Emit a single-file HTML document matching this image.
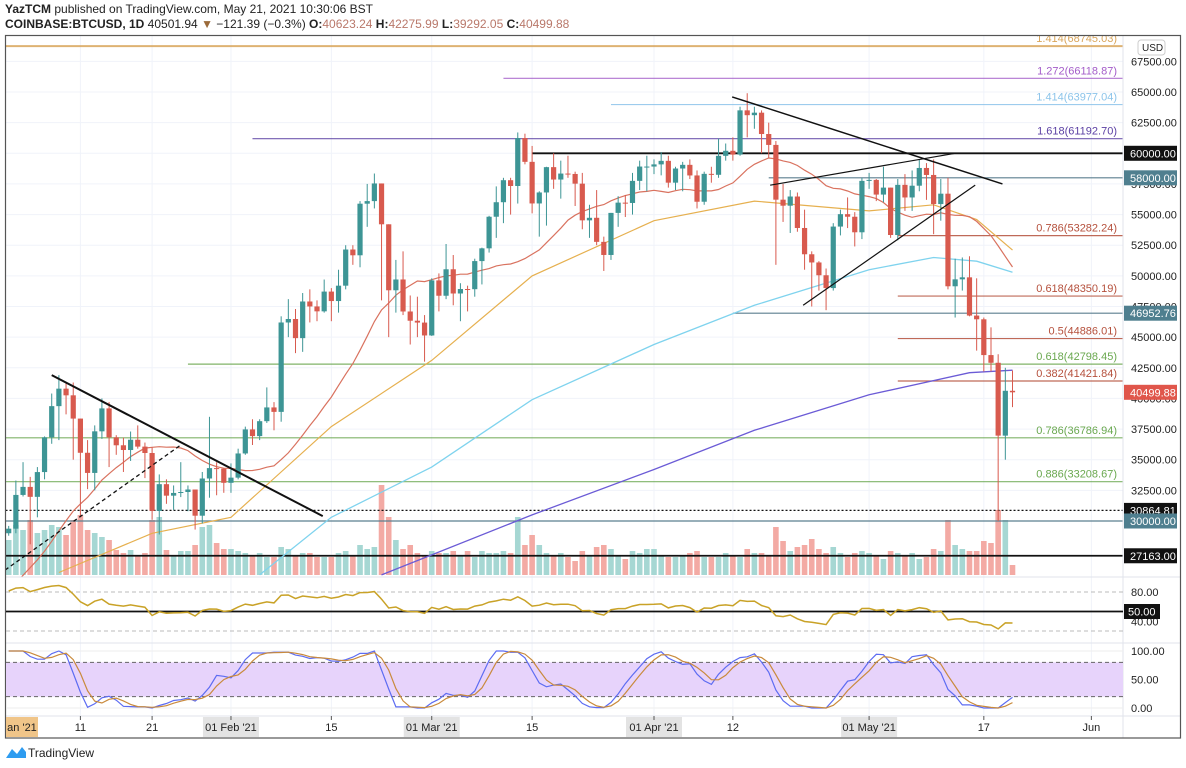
<!DOCTYPE html>
<html><head><meta charset="utf-8"><title>BTCUSD chart</title>
<style>
html,body{margin:0;padding:0;background:#fff;width:1186px;height:768px;overflow:hidden;font-family:"Liberation Sans",sans-serif;}
#hdr1{position:absolute;left:5px;top:2px;font-size:12px;color:#222;}
#hdr2{position:absolute;left:5px;top:17px;font-size:12px;color:#222;}
#hdr2 .o{color:#b9786a}
svg{position:absolute;left:0;top:0}
</style></head><body>
<div id="hdr1"><b>YazTCM</b> published on TradingView.com, May 21, 2021 10:30:06 BST</div>
<div id="hdr2"><b>COINBASE:BTCUSD, 1D</b> 40501.94 <span style="color:#9b6a3a">▼</span> −121.39 (−0.3%) <b>O:</b><span class="o">40623.24</span> <b>H:</b><span class="o">42275.99</span> <b>L:</b><span class="o">39292.05</span> <b>C:</b><span class="o">40499.88</span></div>
<svg id="chart" width="1186" height="768" xmlns="http://www.w3.org/2000/svg"></svg>
<script>
// ---- data ----
const preCloses=[18680,18400,18370,19160,18720,17150,17140,17720,18180,19630,18800,19200,19450,18650,19150,19360,19170,18320,18540,18250,18040,18800,19170,19270,19440,21310,22800,23140,23850,23480,22740,23820,23240,23730,24660,26440,26250,27040,27360,28840,29000];
const closes=[29374,32127,32782,31971,33992,36824,39371,40797,40254,38356,35566,33922,37316,39187,36825,36178,35792,36630,36069,35547,30825,33005,32067,32289,32366,32569,30432,33467,34316,34269,33115,
33537,35510,37472,36926,38144,39266,38903,46196,46481,44919,47909,47504,47105,48717,47945,49199,52149,51679,55888,56099,57539,54207,48824,49705,47093,46339,46188,45137,
49631,48378,50538,48561,48927,48912,51206,52246,54824,56008,57805,57332,61243,59302,55907,56804,58870,57858,58346,58313,57523,54529,54738,52774,51704,55137,55974,55947,57750,58918,58918,
59095,59384,57603,58758,59057,58192,56048,58323,58245,59793,60204,59893,63503,63109,63314,61572,60683,56216,55724,56473,53906,51762,51093,50050,49004,54021,55033,54824,53555,57750,
57828,56631,57200,53333,57424,56396,57356,58803,58232,55859,56704,49150,49716,49880,46760,46456,43537,42909,36964,40623,40499];
const highs=[29600,33300,34800,33600,34400,36900,40400,41900,41300,41300,38200,36600,37800,40000,39700,37000,36800,37300,37800,36400,36000,33800,33400,32900,34800,32900,32500,34000,38500,34800,34300,
34700,35900,37700,38300,38300,40900,39700,46700,48100,47300,48600,48900,48000,49700,49000,50500,52500,52500,56100,57500,58350,57500,54200,51300,52000,48400,48300,46800,
49800,50200,52600,51700,49400,49200,51400,52300,54900,57300,58000,58000,61700,61600,60600,56900,58900,60000,59400,59800,58500,58400,55800,57000,53200,55000,56500,56600,58400,59400,59800,
59500,60100,59800,58900,59300,59500,58600,58500,58900,61200,60800,61300,63800,64900,63800,63500,62500,61000,57500,57000,56800,55400,52000,51200,50600,54300,55400,56400,55200,58000,
58400,57900,58900,57200,57900,58300,58600,59500,59200,59500,57900,58000,51400,51500,51600,49800,46600,45800,43600,42500,42276];
const lows=[28800,29000,32000,28100,30300,33400,36300,36600,38700,35000,30300,32600,32500,36700,34400,35400,34000,34900,35900,33500,30100,28900,31400,30900,31950,30800,29300,29800,31900,32100,32300,
32300,33400,35400,36200,36600,38000,37400,38100,45000,43700,43800,46200,46300,47000,46300,47000,48900,50900,50700,54000,55500,48000,45000,47000,46800,44400,45000,43000,
45100,47100,48100,47600,46300,47100,48300,49300,51900,53100,54300,55000,55900,59100,55100,53200,54100,57100,56300,58000,55700,53800,53100,52500,50400,51300,54000,54800,55000,57000,56900,
58300,58200,57200,57000,56900,57900,55500,55800,57600,58000,59400,59400,59800,61300,62000,60000,59600,50900,54400,53500,53600,50500,47500,48800,47200,48800,53300,53900,52400,53000,
57100,56100,56000,53100,52900,55300,55300,56900,56200,53400,54500,48900,46600,48800,46700,43900,42200,42200,30000,35000,39292];
const volumes=[35,50,45,55,42,45,50,48,40,55,60,45,42,38,35,25,22,25,20,22,55,58,25,20,24,24,30,48,50,32,26,
26,24,22,20,22,18,18,28,26,20,22,22,18,18,18,22,24,20,30,26,28,90,58,35,26,30,22,20,
24,22,22,24,20,24,18,24,22,22,24,22,58,30,40,30,22,20,22,18,14,24,20,28,30,26,20,16,24,22,26,
26,20,18,18,20,22,24,18,18,18,22,20,18,26,22,22,20,48,34,24,28,30,36,26,22,28,22,18,22,24,
22,20,16,24,22,20,22,16,18,26,24,55,30,26,24,24,34,32,65,55,10];
const ma50Days=[7,20,31,45,59,73,90,104,120,129,135,140];
const ma50Vals=[25800,29000,30300,37700,43100,50000,54500,56100,55300,55800,54600,52100];
const ma100Days=[35,45,59,73,90,104,120,129,135,140];
const ma100Vals=[25600,30300,34400,39900,44400,47600,50500,51500,51200,50300];
const ma200Days=[52,73,90,104,120,134,140];
const ma200Vals=[25600,30500,34200,37400,40300,42100,42300];
const priceTicks=[67500,65000,62500,60000,57500,55000,52500,50000,47500,45000,42500,40000,37500,35000,32500,30000];
const dateTickDays=[10,20,31,45,59,73,90,101,120,136,151];
const dateTickLabels=["11","21","01 Feb '21","15","01 Mar '21","15","01 Apr '21","12","01 May '21","17","Jun"];
const fibPrices=[68745.03,66118.87,63977.04,61192.70,53282.24,48350.19,44886.01,42798.45,41421.84,36786.94,33208.67];
const fibLabels=["1.414(68745.03)","1.272(66118.87)","1.414(63977.04)","1.618(61192.70)","0.786(53282.24)","0.618(48350.19)","0.5(44886.01)","0.618(42798.45)","0.382(41421.84)","0.786(36786.94)","0.886(33208.67)"];
const fibStartDays=[-1,69,84,34,124,124,124,25,124,-1,-1];
const fibColors=["#d9a55a","#a35cc9","#8cc4ea","#5a3fa3","#b5503c","#b5503c","#b5503c","#6aa84f","#b5503c","#6aa84f","#6aa84f"];
const levelPrices=[60000,58000,46952.76,30864.81,30000,27163];
const levelLabels=["60000.00","58000.00","46952.76","30864.81","30000.00","27163.00"];
const levelStartDays=[73,106,101,-1,-1,-1];
const levelColors=["#111","#5b7f8f","#5b7f8f","#111","#5b7f8f","#111"];

// ---- axes ----
const X0=8.7, DX=7.17, PR=1123, TOP=36, MAINB=577;
const xd=d=>X0+d*DX;
const yp=p=>521-(p-30000)*0.012257;
const yr=v=>611.5-(v-50)*0.65;
const ys=v=>708-v*0.57;
const NS="http://www.w3.org/2000/svg";
const svg=document.getElementById('chart');
function el(tag,attrs,parent){const e=document.createElementNS(NS,tag);for(const k in attrs)e.setAttribute(k,attrs[k]);(parent||svg).appendChild(e);return e;}
function txt(s,attrs,parent){const e=el('text',attrs,parent);e.textContent=s;return e;}

// clip
const defs=el('defs',{});
const cp=el('clipPath',{id:'mainclip'},defs);el('rect',{x:6,y:TOP,width:PR-6,height:MAINB-TOP},cp);
const cp2=el('clipPath',{id:'lowclip'},defs);el('rect',{x:6,y:MAINB,width:PR-6,height:716-MAINB},cp2);

// grid
const grid=el('g',{stroke:'#f0f3fa','stroke-width':1});


dateTickDays.forEach(d=>el('line',{x1:xd(d),x2:xd(d),y1:TOP,y2:716},grid));
priceTicks.forEach(p=>el('line',{x1:6,x2:PR,y1:yp(p),y2:yp(p)},grid));

// volume
const vg=el('g',{'clip-path':'url(#mainclip)'});


closes.forEach((c,i)=>{const o=i?closes[i-1]:preCloses[preCloses.length-1];
 const r=el('rect',{x:xd(i)-2.8,y:MAINB-2-volumes[i],width:5.6,height:volumes[i],fill:c>=o?'#a6d7d3':'#f3aaa4'},vg);
 
 });

// horizontal fib lines
const hl=el('g',{'clip-path':'url(#mainclip)'});


fibPrices.forEach((p,i)=>{
 el('line',{x1:xd(fibStartDays[i]),x2:PR,y1:yp(p),y2:yp(p),stroke:fibColors[i],'stroke-width':i===0?2:1.2,opacity:0.85},hl);
 const t=txt(fibLabels[i],{x:1117,y:yp(p)-4,'text-anchor':'end','font-size':11,fill:fibColors[i]},hl);
 
 
});
levelPrices.forEach((p,i)=>{
 el('line',{x1:xd(levelStartDays[i]),x2:PR,y1:yp(p),y2:yp(p),stroke:levelColors[i],'stroke-width':(i===0||i===5)?1.8:1.2,'stroke-dasharray':i===3?'2,2':'none'},hl);
});

// moving averages
function polyPts(days,vals,f){return days.map((d,i)=>xd(d).toFixed(1)+','+f(vals[i]).toFixed(1)).join(' ');}
const mag=el('g',{'clip-path':'url(#mainclip)',fill:'none'});


el('polyline',{points:polyPts(ma200Days,ma200Vals,yp),stroke:'#6b5bd6','stroke-width':1.3},mag);
el('polyline',{points:polyPts(ma100Days,ma100Vals,yp),stroke:'#7fd3ee','stroke-width':1.3},mag);
el('polyline',{points:polyPts(ma50Days,ma50Vals,yp),stroke:'#e6b04f','stroke-width':1.2},mag);
const all=preCloses.concat(closes), P=preCloses.length;
const ma20d=[],ma20v=[];
for(let i=0;i<closes.length;i++){let s=0;for(let k=0;k<20;k++)s+=all[P+i-k];ma20d.push(i);ma20v.push(s/20);}
el('polyline',{points:polyPts(ma20d,ma20v,yp),stroke:'#d9725f','stroke-width':1.2},mag);

// candles
const cg=el('g',{'clip-path':'url(#mainclip)'});


closes.forEach((c,i)=>{const o=i?closes[i-1]:preCloses[P-1];const up=c>=o;const col=up?'#3d9595':'#d85a4e';
 const g=el('g',{},cg);
 
 
 el('line',{x1:xd(i),x2:xd(i),y1:yp(Math.max(highs[i],o,c)),y2:yp(Math.min(lows[i],o,c)),stroke:col,'stroke-width':1},g);
 const top=yp(Math.max(o,c)),h=Math.max(1,yp(Math.min(o,c))-top);
 el('rect',{x:xd(i)-2.6,y:top,width:5.2,height:h,fill:col},g);
});

// trend lines (drawings)
const tl=el('g',{'clip-path':'url(#mainclip)',stroke:'#111',fill:'none'});


[[6,41900,43.8,30400,2,''],[-0.5,26000,24,36200,1.3,'4,3'],[100.9,64600,138.6,57500,1.5,''],[106.2,57400,132,60000,1.2,''],[110.8,47600,134.8,57400,1.2,'']].forEach(a=>{
 el('line',{x1:xd(a[0]),y1:yp(a[1]),x2:xd(a[2]),y2:yp(a[3]),'stroke-width':a[4],'stroke-dasharray':a[5]||'none'},tl);});

// pane separators & frame
el('line',{x1:6,x2:1180,y1:MAINB,y2:MAINB,stroke:'#e0e3eb'});
el('line',{x1:6,x2:1180,y1:643,y2:643,stroke:'#e0e3eb'});
el('line',{x1:6,x2:1180,y1:716,y2:716,stroke:'#e0e3eb'});
el('line',{x1:PR,x2:PR,y1:TOP,y2:738,stroke:'#e0e3eb'});
const fr=el('rect',{x:5.5,y:TOP-0.5,width:1175,height:738-TOP+0.5,fill:'none',stroke:'#555','stroke-width':1.2});



// RSI
const rg=el('g',{'clip-path':'url(#lowclip)'});


[80,20].forEach(v=>el('line',{x1:6,x2:PR,y1:yr(v),y2:yr(v),stroke:'#bbb','stroke-dasharray':'4,3'},rg));
el('line',{x1:6,x2:PR,y1:yr(50),y2:yr(50),stroke:'#111','stroke-width':1.8},rg);
let ag=0,al=0;const rsi=[];
for(let i=1;i<all.length;i++){const ch=all[i]-all[i-1],g=Math.max(ch,0),l=Math.max(-ch,0);
 if(i<=14){ag+=g/14;al+=l/14;}else{ag=(ag*13+g)/14;al=(al*13+l)/14;}
 rsi[i]=i>=14?(al===0?100:100-100/(1+ag/al)):null;}
const rd=[],rv=[];for(let i=0;i<closes.length;i++){rd.push(i);rv.push(rsi[P+i]);}
el('polyline',{points:polyPts(rd,rv,yr),stroke:'#c9a227','stroke-width':1.5,fill:'none'},rg);

// Stoch RSI
const sg=el('g',{'clip-path':'url(#lowclip)'});


el('rect',{x:6,y:ys(80),width:PR-6,height:ys(20)-ys(80),fill:'#e7d3fb'},sg);
[80,20].forEach(v=>el('line',{x1:6,x2:PR,y1:ys(v),y2:ys(v),stroke:'#666','stroke-dasharray':'4,3'},sg));
el('line',{x1:6,x2:PR,y1:ys(100),y2:ys(100),stroke:'#eee'},sg);
el('line',{x1:6,x2:PR,y1:ys(0),y2:ys(0),stroke:'#eee'},sg);
const st=[],kk=[],dd=[];
for(let i=27;i<all.length;i++){let mn=1e9,mx=-1e9;for(let k=0;k<14;k++){mn=Math.min(mn,rsi[i-k]);mx=Math.max(mx,rsi[i-k]);}st[i]=mx>mn?100*(rsi[i]-mn)/(mx-mn):50;}
for(let i=29;i<all.length;i++)kk[i]=(st[i]+st[i-1]+st[i-2])/3;
for(let i=31;i<all.length;i++)dd[i]=(kk[i]+kk[i-1]+kk[i-2])/3;
const kv=[],dv=[];for(let i=0;i<closes.length;i++){kv.push(kk[P+i]);dv.push(dd[P+i]);}
el('polyline',{points:polyPts(rd,kv,ys),stroke:'#5d6cf2','stroke-width':1.2,fill:'none'},sg);
el('polyline',{points:polyPts(rd,dv,ys),stroke:'#c98a3c','stroke-width':1.2,fill:'none'},sg);

// price axis
const pa=el('g',{'font-size':11,fill:'#222'});


priceTicks.forEach(p=>txt(p.toFixed(2),{x:1131,y:yp(p)+4},pa));
const usd=el('rect',{x:1138,y:40,width:27,height:15,rx:3,fill:'#fff',stroke:'#ccc'},pa);
txt('USD',{x:1142,y:51,'font-size':10},pa);
levelPrices.forEach((p,i)=>{
 const b=el('rect',{x:1124,y:yp(p)-7.5,width:53,height:15,fill:levelColors[i]==='#111'?'#111':'#4f7f8f'},pa);
 
 
 txt(levelLabels[i],{x:1130,y:yp(p)+4,fill:'#fff'},pa);});
el('rect',{x:1124,y:yp(40499.88)-7.5,width:53,height:15,fill:'#e0564b'},pa);
txt('40499.88',{x:1130,y:yp(40499.88)+4,fill:'#fff'},pa);
[[80,'80.00'],[35,'40.00']].forEach(a=>txt(a[1],{x:1131,y:yr(a[0])+4},pa));
el('rect',{x:1124,y:yr(50)-7.5,width:36,height:15,fill:'#111'},pa);
txt('50.00',{x:1128,y:yr(50)+4,fill:'#fff'},pa);
[[100,'100.00'],[50,'50.00'],[0,'0.00']].forEach(a=>txt(a[1],{x:1131,y:ys(a[0])+4},pa));

// time axis
const ta=el('g',{'font-size':11,fill:'#222','text-anchor':'middle'});


el('rect',{x:6,y:717,width:32,height:20,fill:'#f0c589'},ta);
txt("an '21",{x:22,y:731},ta);
dateTickDays.forEach((d,i)=>{const lab=dateTickLabels[i];
 if(lab.length>4)el('rect',{x:xd(d)-28,y:717,width:56,height:20,fill:'#e3e3e3'},ta);
 el('line',{x1:xd(d),x2:xd(d),y1:716,y2:720,stroke:'#555'},ta);
 txt(lab,{x:xd(d),y:731},ta);});

// logo
const lg=el('g',{});


el('path',{d:'M6 758 L12 749 L17 754 L22 747 L26 752 L26 758 Z',fill:'#2e9cf0'},lg);
txt('TradingView',{x:28,y:757,'font-size':12,fill:'#222'},lg);
</script>
</body></html>
